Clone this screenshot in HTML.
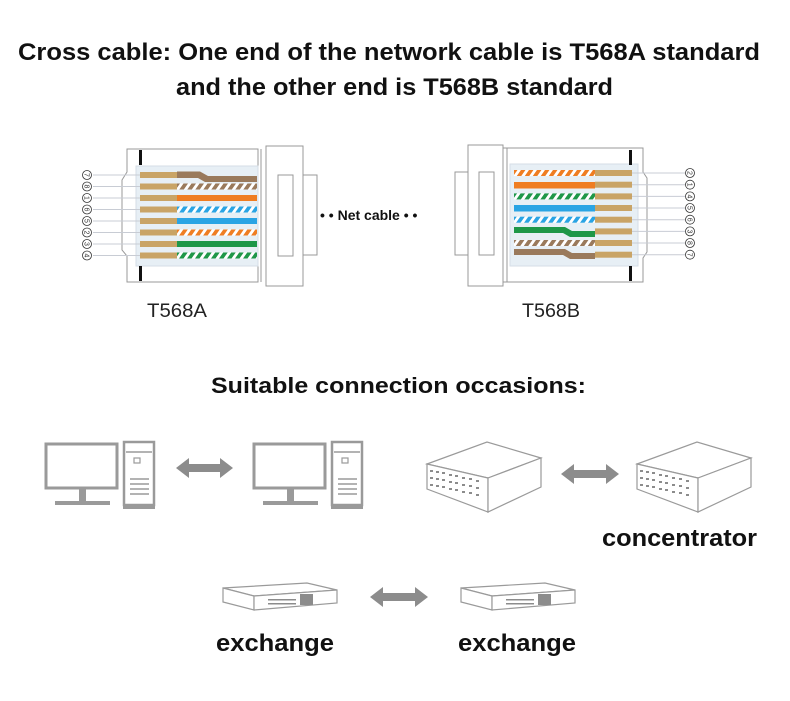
<!DOCTYPE html>
<html><head><meta charset="utf-8"><style>
html,body{margin:0;padding:0;background:#fff;}
svg{display:block;font-family:"Liberation Sans",sans-serif;}
</style></head><body>
<svg width="790" height="701" viewBox="0 0 790 701" xmlns="http://www.w3.org/2000/svg">
<defs>
<pattern id="pBr" width="8" height="8" patternUnits="userSpaceOnUse" patternTransform="skewX(-35)"><rect width="8" height="8" fill="#fff"/><rect width="4.5" height="8" fill="#9a7a5c"/></pattern>
<pattern id="pOr" width="8" height="8" patternUnits="userSpaceOnUse" patternTransform="skewX(-35)"><rect width="8" height="8" fill="#fff"/><rect width="4.5" height="8" fill="#ef7d22"/></pattern>
<pattern id="pBl" width="8" height="8" patternUnits="userSpaceOnUse" patternTransform="skewX(-35)"><rect width="8" height="8" fill="#fff"/><rect width="4.5" height="8" fill="#2aa4e4"/></pattern>
<pattern id="pGr" width="8" height="8" patternUnits="userSpaceOnUse" patternTransform="skewX(-35)"><rect width="8" height="8" fill="#fff"/><rect width="4.5" height="8" fill="#1e9748"/></pattern>
</defs>

<!-- Titles -->
<g font-weight="bold" font-size="24" fill="#111">
<text x="18" y="60" textLength="742" lengthAdjust="spacingAndGlyphs">Cross cable: One end of the network cable is T568A standard</text>
<text x="176" y="95" textLength="437" lengthAdjust="spacingAndGlyphs">and the other end is T568B standard</text>
<text x="211" y="393" font-size="22" textLength="375" lengthAdjust="spacingAndGlyphs">Suitable connection occasions:</text>
<text x="602" y="546" textLength="155" lengthAdjust="spacingAndGlyphs">concentrator</text>
<text x="216" y="651" textLength="118" lengthAdjust="spacingAndGlyphs">exchange</text>
<text x="458" y="651" textLength="118" lengthAdjust="spacingAndGlyphs">exchange</text>
</g>
<text x="147" y="317" font-size="19" fill="#222" textLength="60" lengthAdjust="spacingAndGlyphs">T568A</text>
<text x="522" y="317" font-size="19" fill="#222" textLength="58" lengthAdjust="spacingAndGlyphs">T568B</text>

<!-- LEFT CONNECTOR -->
<g stroke="#999" stroke-width="1" fill="#fff">
<path d="M127,149 H258 V282 H127 V256 L122,250 V180 L127,172 Z"/>
<rect x="136" y="166" width="122" height="100" fill="#e7eff5" stroke="#d6dee6"/>
<line x1="261" y1="149" x2="261" y2="282"/>
<rect x="266" y="146" width="37" height="140"/>
<rect x="278" y="175" width="15" height="81"/>
<rect x="303" y="175" width="14" height="80"/>
</g>
<rect x="139" y="150" width="3" height="15" fill="#111"/>
<rect x="139" y="266" width="3" height="15" fill="#111"/>
<g stroke="#c8ccd4" stroke-width="1">
<line x1="93" y1="175" x2="140" y2="175"/><line x1="93" y1="186.5" x2="140" y2="186.5"/><line x1="93" y1="198" x2="140" y2="198"/><line x1="93" y1="209.5" x2="140" y2="209.5"/><line x1="93" y1="221" x2="140" y2="221"/><line x1="93" y1="232.5" x2="140" y2="232.5"/><line x1="93" y1="244" x2="140" y2="244"/><line x1="93" y1="255.5" x2="140" y2="255.5"/>
</g>
<g fill="#c9a466">
<rect x="140" y="172" width="37" height="6"/><rect x="140" y="183.5" width="37" height="6"/><rect x="140" y="195" width="37" height="6"/><rect x="140" y="206.5" width="37" height="6"/><rect x="140" y="218" width="37" height="6"/><rect x="140" y="229.5" width="37" height="6"/><rect x="140" y="241" width="37" height="6"/><rect x="140" y="252.5" width="37" height="6"/>
</g>
<path d="M177,171.5 H200 L208,176 H257 V182 H205 L198,178 H177 Z" fill="#9a7a5c"/>
<rect x="177" y="183.5" width="80" height="6" fill="url(#pBr)"/>
<rect x="177" y="195" width="80" height="6" fill="#ef7d22"/>
<rect x="177" y="206.5" width="80" height="6" fill="url(#pBl)"/>
<rect x="177" y="218" width="80" height="6" fill="#2aa4e4"/>
<rect x="177" y="229.5" width="80" height="6" fill="url(#pOr)"/>
<rect x="177" y="241" width="80" height="6" fill="#1e9748"/>
<rect x="177" y="252.5" width="80" height="6" fill="url(#pGr)"/>
<g font-size="8" fill="#333" stroke="#333" stroke-width="0.8">
<g fill="none"><circle cx="87" cy="175" r="4.5"/><circle cx="87" cy="186.5" r="4.5"/><circle cx="87" cy="198" r="4.5"/><circle cx="87" cy="209.5" r="4.5"/><circle cx="87" cy="221" r="4.5"/><circle cx="87" cy="232.5" r="4.5"/><circle cx="87" cy="244" r="4.5"/><circle cx="87" cy="255.5" r="4.5"/></g>
</g>
<g font-size="7" fill="#333" text-anchor="middle">
<text transform="translate(84.5,175) rotate(90)" y="0">7</text>
<text transform="translate(84.5,186.5) rotate(90)">8</text>
<text transform="translate(84.5,198) rotate(90)">1</text>
<text transform="translate(84.5,209.5) rotate(90)">6</text>
<text transform="translate(84.5,221) rotate(90)">5</text>
<text transform="translate(84.5,232.5) rotate(90)">2</text>
<text transform="translate(84.5,244) rotate(90)">3</text>
<text transform="translate(84.5,255.5) rotate(90)">4</text>
</g>

<!-- Net cable -->
<text x="320" y="220" font-size="14" font-weight="bold" fill="#111">• • Net cable • •</text>

<!-- RIGHT CONNECTOR -->
<g stroke="#999" stroke-width="1" fill="#fff">
<path d="M503,148 H643 V172 L647,178 V252 L643,258 V282 H503 Z"/>
<rect x="510" y="164" width="128" height="102" fill="#e7eff5" stroke="#d6dee6"/>
<line x1="507" y1="148" x2="507" y2="282"/>
<rect x="468" y="145" width="35" height="141"/>
<rect x="479" y="172" width="15" height="83"/>
<rect x="455" y="172" width="13" height="83"/>
</g>
<rect x="629" y="150" width="3" height="15" fill="#111"/>
<rect x="629" y="266" width="3" height="15" fill="#111"/>
<g stroke="#c8ccd4" stroke-width="1">
<line x1="632" y1="173" x2="685" y2="173"/><line x1="632" y1="184.7" x2="685" y2="184.7"/><line x1="632" y1="196.4" x2="685" y2="196.4"/><line x1="632" y1="208" x2="685" y2="208"/><line x1="632" y1="219.7" x2="685" y2="219.7"/><line x1="632" y1="231.4" x2="685" y2="231.4"/><line x1="632" y1="243" x2="685" y2="243"/><line x1="632" y1="254.7" x2="685" y2="254.7"/>
</g>
<g fill="#c9a466">
<rect x="595" y="170" width="37" height="6"/><rect x="595" y="181.7" width="37" height="6"/><rect x="595" y="193.4" width="37" height="6"/><rect x="595" y="205" width="37" height="6"/><rect x="595" y="216.7" width="37" height="6"/><rect x="595" y="228.4" width="37" height="6"/><rect x="595" y="240" width="37" height="6"/><rect x="595" y="251.7" width="37" height="6"/>
</g>
<rect x="514" y="170" width="81" height="6" fill="url(#pOr)"/>
<rect x="514" y="182" width="81" height="6.5" fill="#ef7d22"/>
<rect x="514" y="193.4" width="81" height="6" fill="url(#pGr)"/>
<rect x="514" y="205" width="81" height="6.5" fill="#2aa4e4"/>
<rect x="514" y="216.7" width="81" height="6" fill="url(#pBl)"/>
<path d="M514,227 H565 L572,231 H595 V237 H570 L563,233 H514 Z" fill="#1e9748"/>
<rect x="514" y="240" width="81" height="6" fill="url(#pBr)"/>
<path d="M514,249 H565 L572,253 H595 V259 H570 L563,255 H514 Z" fill="#9a7a5c"/>
<g fill="none" stroke="#333" stroke-width="0.8">
<circle cx="690" cy="173" r="4.5"/><circle cx="690" cy="184.7" r="4.5"/><circle cx="690" cy="196.4" r="4.5"/><circle cx="690" cy="208" r="4.5"/><circle cx="690" cy="219.7" r="4.5"/><circle cx="690" cy="231.4" r="4.5"/><circle cx="690" cy="243" r="4.5"/><circle cx="690" cy="254.7" r="4.5"/>
</g>
<g font-size="7" fill="#333" text-anchor="middle">
<text transform="translate(687.5,173) rotate(90)">2</text>
<text transform="translate(687.5,184.7) rotate(90)">1</text>
<text transform="translate(687.5,196.4) rotate(90)">4</text>
<text transform="translate(687.5,208) rotate(90)">5</text>
<text transform="translate(687.5,219.7) rotate(90)">6</text>
<text transform="translate(687.5,231.4) rotate(90)">3</text>
<text transform="translate(687.5,243) rotate(90)">8</text>
<text transform="translate(687.5,254.7) rotate(90)">7</text>
</g>

<!-- Computers -->
<g id="pc" fill="none" stroke="#9a9a9a" stroke-width="3">
<rect x="46" y="444" width="71" height="44"/>
<rect x="79" y="489" width="7" height="12" fill="#9a9a9a" stroke="none"/>
<rect x="55" y="501" width="55" height="4" fill="#9a9a9a" stroke="none"/>
<rect x="124" y="442" width="30" height="63" stroke-width="2.5"/>
<line x1="126" y1="452" x2="152" y2="452" stroke-width="1.5"/>
<rect x="134" y="458" width="6" height="5" stroke-width="1.2"/>
<line x1="130" y1="479" x2="149" y2="479" stroke-width="1.5"/>
<line x1="130" y1="484" x2="149" y2="484" stroke-width="1.5"/>
<line x1="130" y1="489" x2="149" y2="489" stroke-width="1.5"/>
<line x1="130" y1="494" x2="149" y2="494" stroke-width="1.5"/>
<rect x="123" y="505" width="32" height="4" fill="#9a9a9a" stroke="none"/>
</g>
<use href="#pc" transform="translate(208,0)"/>
<path d="M176,468 L189,458 V464 H220 V458 L233,468 L220,478 V472 H189 V478 Z" fill="#8c8c8c"/>

<!-- Hubs -->
<g id="hub" fill="#fff" stroke="#9a9a9a" stroke-width="1.2">
<path d="M427,464 L487,442 L541,458 L488,478 Z"/>
<path d="M427,464 L488,478 V512 L427,489 Z"/>
<path d="M488,478 L541,458 V487 L488,512 Z"/>
<g fill="#8c8c8c" stroke="none">
<rect x="430" y="470" width="3" height="2"/><rect x="436" y="471" width="3" height="2"/><rect x="442" y="472" width="3" height="2"/><rect x="449" y="474" width="3" height="2"/><rect x="455" y="475" width="3" height="2"/><rect x="462" y="477" width="3" height="2"/><rect x="469" y="478" width="3" height="2"/><rect x="476" y="480" width="3" height="2"/>
<rect x="430" y="477" width="3" height="2"/><rect x="436" y="478" width="3" height="2"/><rect x="442" y="479" width="3" height="2"/><rect x="449" y="481" width="3" height="2"/><rect x="455" y="482" width="3" height="2"/><rect x="462" y="484" width="3" height="2"/><rect x="469" y="485" width="3" height="2"/><rect x="476" y="487" width="3" height="2"/>
<rect x="430" y="484" width="3" height="2"/><rect x="436" y="485" width="3" height="2"/><rect x="442" y="486" width="3" height="2"/><rect x="449" y="488" width="3" height="2"/><rect x="455" y="489" width="3" height="2"/><rect x="462" y="491" width="3" height="2"/><rect x="469" y="492" width="3" height="2"/><rect x="476" y="494" width="3" height="2"/>
</g>
</g>
<use href="#hub" transform="translate(210,0)"/>
<path d="M561,474 L574,464 V470 H606 V464 L619,474 L606,484 V478 H574 V484 Z" fill="#8c8c8c"/>

<!-- Switches -->
<g id="sw" fill="#fff" stroke="#9a9a9a" stroke-width="1.2">
<path d="M223,588 L307,583 L337,590 L254,596 Z"/>
<path d="M223,588 L254,596 V610 L223,602 Z"/>
<path d="M254,596 L337,590 V603 L254,610 Z"/>
<rect x="300" y="594" width="13" height="11" fill="#8c8c8c" stroke="none"/>
<g fill="#8c8c8c" stroke="none">
<rect x="268" y="599" width="28" height="1.5"/><rect x="268" y="603" width="28" height="1.5"/>
</g>
</g>
<use href="#sw" transform="translate(238,0)"/>
<path d="M370,597 L383,587 V593 L415,593 V587 L428,597 L415,607 V601 H383 V607 Z" fill="#8c8c8c"/>
</svg>
</body></html>
